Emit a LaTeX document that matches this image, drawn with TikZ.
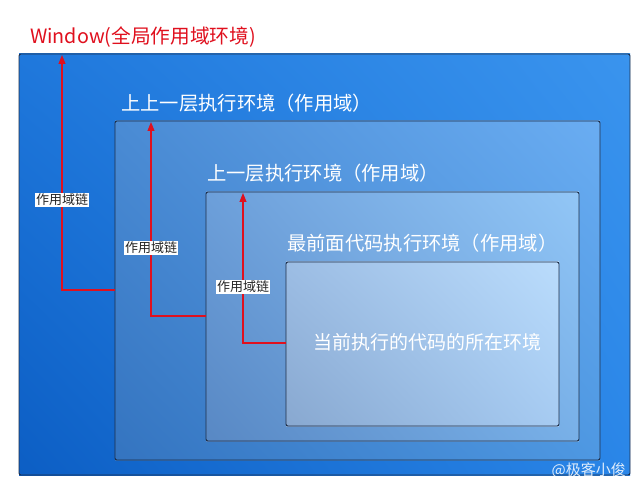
\documentclass[tikz,border=0pt]{standalone}
\usepackage{fontspec}
\setmainfont{Noto Sans CJK SC}
\usetikzlibrary{arrows.meta,shadings}
\definecolor{chain}{HTML}{E0101E}
\definecolor{aLL}{HTML}{0C5EC4}\definecolor{aUL}{HTML}{1F78DC}\definecolor{aLR}{HTML}{2A86E8}\definecolor{aUR}{HTML}{3A94EE}
\definecolor{bLL}{HTML}{3474C0}\definecolor{bUL}{HTML}{4A8BD4}\definecolor{bLR}{HTML}{4E98E2}\definecolor{bUR}{HTML}{6AADF2}
\definecolor{cLL}{HTML}{5888C4}\definecolor{cUL}{HTML}{6C9FDA}\definecolor{cLR}{HTML}{78B0E8}\definecolor{cUR}{HTML}{92C6F6}
\definecolor{dLL}{HTML}{88A8D0}\definecolor{dUL}{HTML}{9CBDE4}\definecolor{dLR}{HTML}{A6CBF2}\definecolor{dUR}{HTML}{BADCFC}
\definecolor{edge}{HTML}{1E2E48}
\tikzset{
 env/.style={draw=edge, line width=0.9pt, rounded corners=2pt},
 ttl/.style={anchor=west, text=white, font=\fontsize{19.3}{22}\selectfont, inner sep=0pt},
 lnk/.style={draw=chain, line width=1.1pt, -{Triangle[length=9pt,width=7pt]}},
 lbl/.style={fill=white, text=black!85, font=\fontsize{13}{15}\selectfont, inner sep=0.8pt}
}
\begin{document}
\begin{tikzpicture}[x=1pt,y=-1pt]
\useasboundingbox[fill=white] (0,0) rectangle (640,494);
\shade[lower left=aLL, upper left=aUL, lower right=aLR, upper right=aUR] (19,54) rectangle (630,475);
\draw[env] (19,54) rectangle (630,475);
\shade[lower left=bLL, upper left=bUL, lower right=bLR, upper right=bUR] (115,121) rectangle (600,460);
\draw[env] (115,121) rectangle (600,460);
\shade[lower left=cLL, upper left=cUL, lower right=cLR, upper right=cUR] (206,192) rectangle (579,441);
\draw[env] (206,192) rectangle (579,441);
\shade[lower left=dLL, upper left=dUL, lower right=dLR, upper right=dUR] (286,262) rectangle (559,426);
\draw[env] (286,262) rectangle (559,426);
\coordinate (e2) at (115,290);
\coordinate (e3) at (206,316);
\coordinate (e4) at (286,343);
\coordinate (t1) at (62,55);
\coordinate (t2) at (151,122);
\coordinate (t3) at (243,193);
\draw[lnk] (e2) -| (t1);
\draw[lnk] (e3) -| (t2);
\draw[lnk] (e4) -| (t3);
\node[lbl] (l1) at (62,200) {作用域链};
\node[lbl] (l2) at (151,248) {作用域链};
\node[lbl] (l3) at (243,287) {作用域链};
\node[anchor=west, text=chain, font=\fontsize{19.7}{22}\selectfont, inner sep=0pt] (w) at (30,37) {Window(全局作用域环境)};
\node[ttl] (n2) at (121,103) {上上一层执行环境（作用域）};
\node[ttl] (n3) at (207,173) {上一层执行环境（作用域）};
\node[ttl] (n4) at (287,243) {最前面代码执行环境（作用域）};
\node[text=white, font=\fontsize{19}{22}\selectfont] (n5) at (427,342) {当前执行的代码的所在环境};
\node[anchor=east, text=white, opacity=0.85, font=\fontsize{15}{17}\selectfont, inner sep=0pt] (wm) at (626,470) {@极客小俊};
\end{tikzpicture}
\end{document}
